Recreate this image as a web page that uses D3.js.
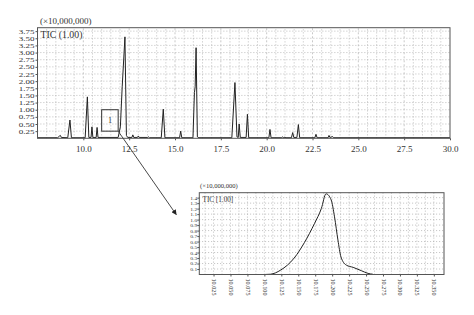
<!DOCTYPE html>
<html lang="en">
<head>
    <meta charset="UTF-8">
    <title>TIC chromatogram</title>
    <script src="https://d3js.org/d3.v7.min.js"></script>
    <style>
        body { margin: 0; background: #fff; }
        svg text { font-family: "Liberation Serif", "DejaVu Serif", serif; fill: #333; }
        .frame { fill: none; stroke: #555; stroke-width: 1; }
        .trace { fill: none; stroke: #222; stroke-width: 1; }
        .grid line { stroke: #9a9a9a; stroke-width: 0.8; stroke-dasharray: 0.8,2.2; }
        .grid line.major { stroke: #bbb; stroke-dasharray: 2,2; }
    </style>
</head>
<body>
<div id="chart"></div>
<script>
    // full TIC trace (time in min, intensity x10,000,000)
    var ticTime = [7.5, 8.6, 8.7, 8.75, 8.8, 9.15, 9.27, 9.35, 10.1, 10.22, 10.3, 10.42, 10.47, 10.52,
        10.7, 10.75, 10.8, 11.9, 12.02, 12.12, 12.27, 12.35, 12.42, 12.65, 12.7, 12.75, 12.95, 13.0, 13.05,
        13.5, 13.55, 13.6, 14.25, 14.36, 14.45, 15.25, 15.31, 15.37, 15.98, 16.06, 16.1, 16.15, 16.22, 16.3,
        18.1, 18.27, 18.38, 18.45, 18.5, 18.56, 18.88, 18.95, 19.02, 20.12, 20.18, 20.24, 20.8, 20.85, 20.9,
        21.0, 21.05, 21.35, 21.42, 21.48, 21.65, 21.73, 21.8, 22.63, 22.69, 22.75, 23.35, 23.4, 23.45, 23.6,
        23.65, 24.0, 30.0];
    var ticValue = [0.02, 0.02, 0.08, 0.1, 0.03, 0.02, 0.64, 0.02, 0.02, 1.45, 0.03, 0.03, 0.4, 0.03,
        0.03, 0.38, 0.03, 0.03, 0.4, 1.8, 3.55, 0.1, 0.03, 0.03, 0.12, 0.03, 0.03, 0.08, 0.03,
        0.03, 0.05, 0.02, 0.02, 1.02, 0.02, 0.02, 0.25, 0.02, 0.02, 1.6, 1.8, 3.17, 0.05, 0.02,
        0.02, 1.95, 0.05, 0.03, 0.5, 0.03, 0.03, 0.84, 0.02, 0.02, 0.31, 0.02, 0.02, 0.05, 0.02,
        0.04, 0.02, 0.02, 0.2, 0.03, 0.03, 0.48, 0.02, 0.02, 0.14, 0.02, 0.02, 0.1, 0.03, 0.06,
        0.02, 0.02, 0.02];

    // zoomed peak 1
    var peakTime = [10.004, 10.05, 10.1, 10.109, 10.124, 10.144, 10.159, 10.174, 10.184, 10.191, 10.1985,
        10.2035, 10.2085, 10.213, 10.221, 10.231, 10.243, 10.253, 10.26];
    var peakValue = [0, 0, 0, 0.005, 0.08, 0.3, 0.58, 0.93, 1.2, 1.47, 1.36,
        1.05, 0.63, 0.32, 0.17, 0.13, 0.07, 0.02, 0.005];

    var ticXTicks = [10.0, 12.5, 15.0, 17.5, 20.0, 22.5, 25.0, 27.5, 30.0];
    var ticYTicks = [0.25, 0.50, 0.75, 1.00, 1.25, 1.50, 1.75, 2.00, 2.25, 2.50, 2.75, 3.00, 3.25, 3.50, 3.75];
    var peakXTicks = [10.025, 10.050, 10.075, 10.100, 10.125, 10.150, 10.175, 10.200, 10.225, 10.250,
        10.275, 10.300, 10.325, 10.350];
    var peakYTicks = [0.1, 0.2, 0.3, 0.4, 0.5, 0.6, 0.7, 0.8, 0.9, 1.0, 1.1, 1.2, 1.3, 1.4];

    // box marking peak 1 on the full trace
    var boxTime = [11.0, 11.9], boxValue = [0.25, 1.0];

    var W = 474, H = 315;
    var svg = d3.select("#chart").append("svg")
        .attr("width", W).attr("height", H);

    // ---- top chart ----
    var x1 = d3.scaleLinear().domain([7.5, 30]).range([37.5, 450]);
    var y1 = d3.scaleLinear().domain([0, 3.87]).range([138.3, 27.7]);

    var g1 = svg.append("g");
    var grid1 = g1.append("g").attr("class", "grid");
    grid1.selectAll("line.h").data(ticYTicks).enter().append("line")
        .attr("x1", x1.range()[0]).attr("x2", x1.range()[1])
        .attr("y1", function(d) { return y1(d); }).attr("y2", function(d) { return y1(d); });
    grid1.selectAll("line.v").data(d3.range(16, 60).map(function(i) { return i * 0.5; })).enter().append("line")
        .attr("class", function(d) { return d % 2.5 === 0 ? "major" : null; })
        .attr("x1", function(d) { return x1(d); }).attr("x2", function(d) { return x1(d); })
        .attr("y1", y1.range()[0]).attr("y2", y1.range()[1]);

    var ticLine = d3.line()
        .x(function(d, i) { return x1(ticTime[i]); })
        .y(function(d) { return y1(d); });
    g1.append("path").datum(ticValue).attr("class", "trace").attr("d", ticLine);

    g1.append("rect").attr("class", "frame")
        .attr("x", x1.range()[0]).attr("y", y1.range()[1])
        .attr("width", x1.range()[1] - x1.range()[0]).attr("height", y1.range()[0] - y1.range()[1]);

    var xAxis1 = d3.axisBottom(x1).tickValues(ticXTicks).tickFormat(d3.format(".1f")).tickSize(2);
    g1.append("g").attr("transform", "translate(0," + y1.range()[0] + ")").call(xAxis1)
        .call(function(a) {
            a.select(".domain").remove();
            a.selectAll("line").attr("stroke", "#555");
            a.selectAll("text").attr("font-size", 9).attr("dy", "0.95em").attr("fill", "#333")
                .attr("font-family", null);
        });
    // y labels are squeezed vertically like the instrument print-out
    var yAxis1 = d3.axisLeft(y1).tickValues(ticYTicks).tickFormat(d3.format(".2f")).tickSize(2);
    g1.append("g").attr("transform", "translate(" + x1.range()[0] + ",0)").call(yAxis1)
        .call(function(a) {
            a.select(".domain").remove();
            a.selectAll("line").attr("stroke", "#555");
            a.selectAll("text").attr("font-size", 9).attr("x", -3).attr("fill", "#333")
                .attr("font-family", null).attr("transform", "scale(1,0.72)");
        });
    g1.append("text").attr("x", 40).attr("y", 24).attr("font-size", 9).text("(\u00d710,000,000)");
    g1.append("text").attr("x", 40.5).attr("y", 37.5).attr("font-size", 9.8).text("TIC (1.00)");

    // ---- bottom chart ----
    var x2 = d3.scaleLinear().domain([10.004, 10.365]).range([199.3, 444]);
    var y2 = d3.scaleLinear().domain([0, 1.49]).range([274.5, 192.7]);

    var g2 = svg.append("g");
    var grid2 = g2.append("g").attr("class", "grid");
    grid2.selectAll("line.h").data(peakYTicks).enter().append("line")
        .attr("x1", x2.range()[0]).attr("x2", x2.range()[1])
        .attr("y1", function(d) { return y2(d); }).attr("y2", function(d) { return y2(d); });
    grid2.selectAll("line.v").data(d3.range(1, 29).map(function(i) { return 10 + i * 0.0125; })).enter().append("line")
        .attr("x1", function(d) { return x2(d); }).attr("x2", function(d) { return x2(d); })
        .attr("y1", y2.range()[0]).attr("y2", y2.range()[1]);

    var peakLine = d3.line()
        .curve(d3.curveMonotoneX)
        .x(function(d, i) { return x2(peakTime[i]); })
        .y(function(d) { return y2(d); });
    g2.append("path").datum(peakValue).attr("class", "trace").attr("stroke-width", 1.1).attr("d", peakLine);

    g2.append("rect").attr("class", "frame")
        .attr("x", x2.range()[0]).attr("y", y2.range()[1])
        .attr("width", x2.range()[1] - x2.range()[0]).attr("height", y2.range()[0] - y2.range()[1]);

    var xAxis2 = d3.axisBottom(x2).tickValues(peakXTicks).tickFormat(d3.format(".3f")).tickSize(2);
    g2.append("g").attr("transform", "translate(0," + y2.range()[0] + ")").call(xAxis2)
        .call(function(a) {
            a.select(".domain").remove();
            a.selectAll("line").attr("stroke", "#555");
            a.selectAll("text").attr("font-size", 6.2).attr("fill", "#333").attr("font-family", null)
                .attr("transform", "rotate(90)").attr("x", 4).attr("y", 0).attr("dy", "0.32em")
                .attr("text-anchor", "start");
        });
    var yAxis2 = d3.axisLeft(y2).tickValues(peakYTicks).tickFormat(d3.format(".1f")).tickSize(2);
    g2.append("g").attr("transform", "translate(" + x2.range()[0] + ",0)").call(yAxis2)
        .call(function(a) {
            a.select(".domain").remove();
            a.selectAll("line").attr("stroke", "#555");
            a.selectAll("text").attr("font-size", 6.5).attr("x", -2.5).attr("fill", "#333")
                .attr("font-family", null).attr("transform", "scale(0.85,0.7)");
        });
    g2.append("text").attr("x", 200).attr("y", 188).attr("font-size", 6.6).text("(\u00d710,000,000)");
    g2.append("text").attr("x", 202.5).attr("y", 202).attr("font-size", 7.2).text("TIC [1.00]");

    // ---- box and arrow ----
    svg.append("rect").attr("fill", "none").attr("stroke", "#333").attr("stroke-width", 1)
        .attr("x", x1(boxTime[0])).attr("y", y1(boxValue[1]))
        .attr("width", x1(boxTime[1]) - x1(boxTime[0])).attr("height", y1(boxValue[0]) - y1(boxValue[1]));
    svg.append("text").attr("x", (x1(boxTime[0]) + x1(boxTime[1])) / 2)
        .attr("y", (y1(boxValue[0]) + y1(boxValue[1])) / 2).attr("dy", "0.35em")
        .attr("text-anchor", "middle").attr("font-size", 8).attr("fill", "#222").text("1");

    svg.append("defs").append("marker").attr("id", "head")
        .attr("viewBox", "0 0 10 10").attr("refX", 9).attr("refY", 5)
        .attr("markerWidth", 6).attr("markerHeight", 6).attr("orient", "auto")
        .append("path").attr("d", "M0,0L10,5L0,10z").attr("fill", "#222");
    svg.append("line").attr("stroke", "#333").attr("stroke-width", 0.9)
        .attr("x1", x1(boxTime[1])).attr("y1", y1(boxValue[0]))
        .attr("x2", x2.range()[0] - 23).attr("y2", y2(1.09))
        .attr("marker-end", "url(#head)");
</script>
</body>
</html>
